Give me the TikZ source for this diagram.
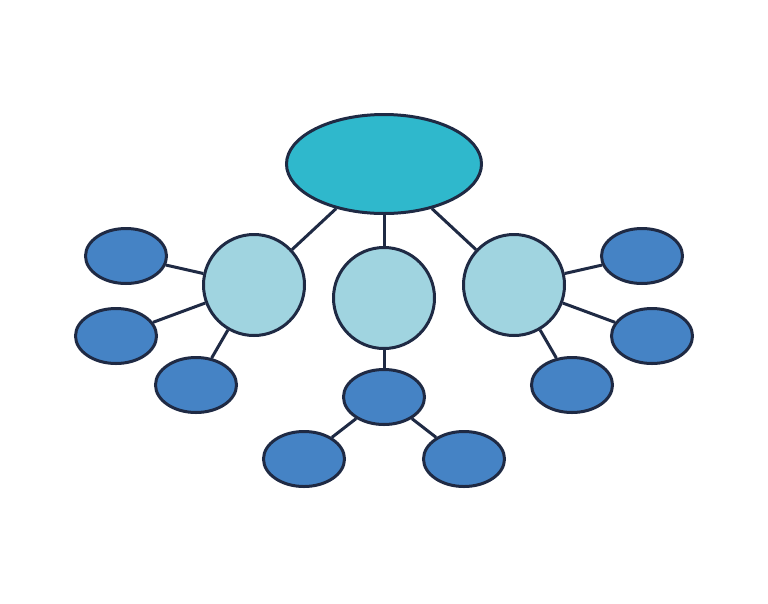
\documentclass[tikz,border=0pt]{standalone}
\usetikzlibrary{shapes.geometric,backgrounds}
\definecolor{outl}{HTML}{1F2A44}
\definecolor{topc}{HTML}{2FB8CC}
\definecolor{midc}{HTML}{A0D4E0}
\definecolor{leafc}{HTML}{4583C5}
\begin{document}
\begin{tikzpicture}[x=1pt,y=-1pt,
  base/.style={draw=outl,line width=3pt,inner sep=0pt},
  topnode/.style={base,ellipse,fill=topc,minimum width=195pt,minimum height=99pt},
  midnode/.style={base,circle,fill=midc,minimum size=101pt},
  leaf/.style={base,ellipse,fill=leafc,minimum width=81pt,minimum height=55pt},
  link/.style={draw=outl,line width=3pt}]
\useasboundingbox (0,0) rectangle (768,603);
\node[topnode] (top) at (384,164) {};
\node[midnode] (cl) at (254,285) {};
\node[midnode] (cm) at (384,298) {};
\node[midnode] (cr) at (514,285) {};
\node[leaf] (l1) at (126,256) {};
\node[leaf] (l2) at (116,336) {};
\node[leaf] (l3) at (196,385) {};
\node[leaf] (r1) at (642,256) {};
\node[leaf] (r2) at (652,336) {};
\node[leaf] (r3) at (572,385) {};
\node[leaf] (m1) at (384,397) {};
\node[leaf] (m2) at (304,459) {};
\node[leaf] (m3) at (464,459) {};
\begin{scope}[on background layer]
\fill[white] (0,0) rectangle (768,603);
\draw[link] (top) -- (cl);
\draw[link] (top) -- (cm);
\draw[link] (top) -- (cr);
\draw[link] (cl) -- (l1);
\draw[link] (cl) -- (l2);
\draw[link] (cl) -- (l3);
\draw[link] (cr) -- (r1);
\draw[link] (cr) -- (r2);
\draw[link] (cr) -- (r3);
\draw[link] (cm) -- (m1);
\draw[link] (m1) -- (m2);
\draw[link] (m1) -- (m3);
\end{scope}
\end{tikzpicture}
\end{document}
